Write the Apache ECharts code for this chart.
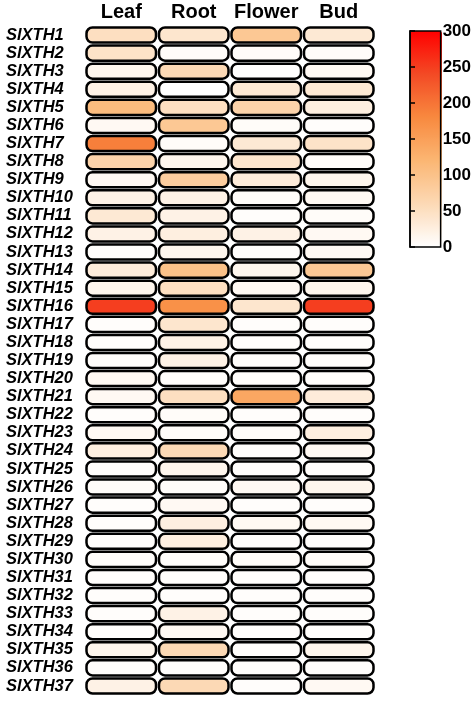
<!DOCTYPE html>
<html>
<head>
<meta charset="utf-8">
<script src="https://cdn.jsdelivr.net/npm/echarts@6/dist/echarts.min.js"></script>
<style>html,body{margin:0;padding:0;background:#fff}#c{width:474px;height:702px}</style>
</head>
<body>
<div id="c"></div>
<script>
const tissues = ['Leaf', 'Root', 'Flower', 'Bud'];
const genes = [];
for (let i = 1; i <= 37; i++) genes.push('SlXTH' + i);
// rows: Leaf, Root, Flower, Bud
const expr = [
  [50, 40, 90, 35], [45, 5, 5, 5], [15, 60, 2, 10], [20, 0, 35, 35],
  [110, 50, 70, 25], [10, 90, 5, 3], [190, 5, 35, 45], [70, 15, 40, 5],
  [10, 80, 30, 15], [20, 20, 5, 10], [35, 20, 3, 5], [20, 25, 20, 10],
  [3, 15, 3, 10], [30, 100, 15, 90], [15, 50, 10, 15], [250, 170, 40, 250],
  [3, 40, 3, 3], [3, 20, 3, 3], [3, 20, 3, 3], [10, 3, 3, 3],
  [10, 50, 140, 30], [3, 5, 3, 3], [10, 5, 5, 25], [25, 60, 3, 10],
  [3, 15, 3, 3], [5, 5, 10, 15], [3, 10, 3, 3], [3, 25, 10, 10],
  [3, 25, 3, 3], [3, 3, 5, 5], [3, 3, 3, 3], [3, 3, 3, 3],
  [3, 20, 3, 3], [3, 10, 3, 3], [15, 60, 3, 15], [3, 3, 3, 3], [20, 60, 3, 10]
];
const scaleTicks = [0, 50, 100, 150, 200, 250, 300];

const data = [];
expr.forEach((row, g) => row.forEach((v, t) => data.push([t, g, v])));

const font = 'Arial, Liberation Sans';
const chart = echarts.init(document.getElementById('c'), null, {renderer: 'canvas'});
chart.setOption({
  animation: false,
  grid: [
    {left: 85, right: 99, top: 26, bottom: 7},
    {left: 410, width: 32, top: 31, height: 216, show: true, borderColor: '#000', borderWidth: 1.5, backgroundColor: 'transparent', z: 1}
  ],
  xAxis: [
    {type: 'category', data: tissues, position: 'top', gridIndex: 0,
     axisLine: {show: false}, axisTick: {show: false},
     axisLabel: {interval: 0, fontSize: 20, fontWeight: 'bold', color: '#000', fontFamily: font, margin: 4}},
    {type: 'value', gridIndex: 1, show: false}
  ],
  yAxis: [
    {type: 'category', data: genes, inverse: true, gridIndex: 0,
     axisLine: {show: false}, axisTick: {show: false},
     axisLabel: {interval: 0, fontSize: 16.5, fontWeight: 'bold', fontStyle: 'italic', color: '#000', fontFamily: font,
       margin: 79, align: 'left'}},
    {type: 'value', gridIndex: 1, min: 0, max: 300, interval: 50, position: 'right', z: 10,
     splitLine: {show: false},
     axisLine: {show: true, lineStyle: {color: '#000', width: 1.5}},
     axisTick: {show: true, inside: false, length: 5, lineStyle: {color: '#000', width: 1.5}},
     axisLabel: {fontSize: 17, fontWeight: 'bold', color: '#000', fontFamily: font, margin: 2,
       formatter: v => scaleTicks.includes(v) ? v : ''}}
  ],
  visualMap: {
    type: 'continuous', min: 0, max: 300, seriesIndex: 0, dimension: 2,
    left: 410, top: 31, itemWidth: 32, itemHeight: 216, padding: 0, zlevel: 0, z: 0,
    text: null, showLabel: false, calculable: false, hoverLink: false,
    inRange: {color: ['#ffffff', '#fcd9b5', '#fbb673', '#f8893f', '#f34a25', '#ff0000']}
  },
  series: [{
    type: 'custom',
    xAxisIndex: 0, yAxisIndex: 0,
    data: data,
    renderItem: (params, api) => {
      const c = api.coord([api.value(0), api.value(1)]);
      const s = api.size([1, 1]);
      const w = s[0] - 3, h = s[1] - 3;
      return {
        type: 'rect',
        shape: {x: c[0] - w / 2, y: c[1] - h / 2, width: w, height: h, r: 6},
        style: {fill: api.visual('color'), stroke: '#000', lineWidth: 2.5}
      };
    }
  }]
});
</script>
</body>
</html>
